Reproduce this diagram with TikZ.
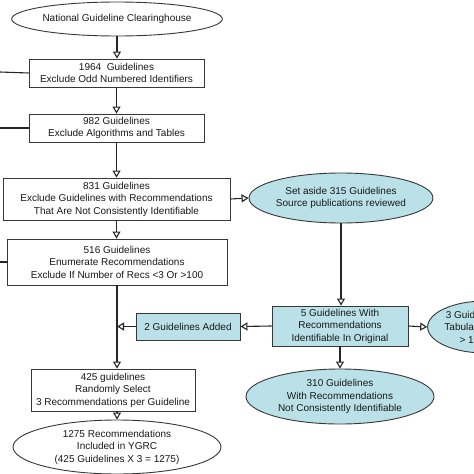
\documentclass[tikz,border=0pt]{standalone}
\usepackage{fontspec}
\setmainfont{Liberation Sans}
\usetikzlibrary{shapes.geometric,arrows.meta}
\definecolor{tealfill}{RGB}{186,225,231}
\definecolor{edgecol}{RGB}{55,55,55}
\begin{document}
\begin{tikzpicture}[x=1pt,y=-1pt,
  txt/.style={align=center,font=\fontsize{10}{12.5}\selectfont,inner sep=0pt,text=black!90},
  box/.style={txt,draw=edgecol,line width=0.9pt,rectangle},
  ell/.style={txt,draw=edgecol,line width=0.9pt,ellipse},
  tealnode/.style={fill=tealfill},
  conn/.style={line width=1.1pt,draw=black!85,-{Triangle[open,length=7pt,width=8pt]}},
  plainline/.style={line width=1.1pt,draw=black!85}]
\useasboundingbox (0,0) rectangle (474,474);
\clip (0,0) rectangle (474,474);
\fill[white] (0,0) rectangle (474,474);

\node[ell,minimum width=203pt,minimum height=34pt] (ngc) at (117,19) {National Guideline Clearinghouse};
\node[box,minimum width=175pt,minimum height=28pt] (b1) at (116.5,73) {1964\ \ Guidelines\\Exclude Odd Numbered Identifiers};
\node[box,minimum width=175pt,minimum height=28pt] (b2) at (116.5,128) {982 Guidelines\\Exclude Algorithms and Tables};
\node[box,minimum width=227pt,minimum height=42pt] (b3) at (116.5,199) {831 Guidelines\\Exclude Guidelines with Recommendations\\That Are Not Consistently Identifiable};
\node[box,minimum width=220pt,minimum height=46pt] (b4) at (117,262) {516 Guidelines\\Enumerate Recommendations\\Exclude If Number of Recs <3 Or >100};
\node[box,minimum width=164pt,minimum height=42pt] (b5) at (113,390) {425 guidelines\\Randomly Select\\3 Recommendations per Guideline};
\node[ell,minimum width=208pt,minimum height=54pt] (fin) at (117,447) {1275 Recommendations\\Included in YGRC\\(425 Guidelines X 3 = 1275)};

\node[ell,tealnode,minimum width=162pt,minimum height=50pt] (aside) at (341,198) {Set aside 315 Guidelines\\Source publications reviewed};
\node[box,tealnode,minimum width=136pt,minimum height=40pt] (five) at (340,326) {5 Guidelines With\\Recommendations\\Identifiable In Original};
\node[box,tealnode,minimum width=104pt,minimum height=27pt] (added) at (188,326.5) {2 Guidelines Added};
\node[ell,tealnode,minimum width=104pt,minimum height=52pt] (three) at (485,327) {3 Guidelines With\\Tabular Format Or\\> 100 Recs};
\node[ell,tealnode,minimum width=188pt,minimum height=55pt] (notc) at (340,396.5) {310 Guidelines\\With Recommendations\\Not Consistently Identifiable};

\coordinate (l1) at (0,72);
\coordinate (l2) at (0,128);
\coordinate (l4) at (0,262);
\coordinate (join) at (117,326.5);

\draw[conn] (ngc.south) -- (ngc.south |- b1.north);
\draw[conn] (b1.south) -- (b1.south |- b2.north);
\draw[conn] (b2.south) -- (b2.south |- b3.north);
\draw[conn] (b3.south) -- (b3.south |- b4.north);
\draw[conn] (b4.south) -- (b4.south |- b5.north);
\draw[conn] (b4.south |- b5.south) -- (b4.south |- fin.north);
\draw[conn] (added.west) -- (join);
\draw[conn] (five.west) -- (added.east);
\draw[conn] (five.east) -- (three.west);
\draw[conn] (five.south) -- (notc.north);
\draw[conn] (aside.south) -- (aside.south |- five.north);
\draw[conn] (b3.east) -- (aside.west);
\draw[plainline] (b1.west) -- (l1);
\draw[plainline] (b2.west) -- (l2);
\draw[plainline] (b4.west) -- (l4);
\end{tikzpicture}
\end{document}
